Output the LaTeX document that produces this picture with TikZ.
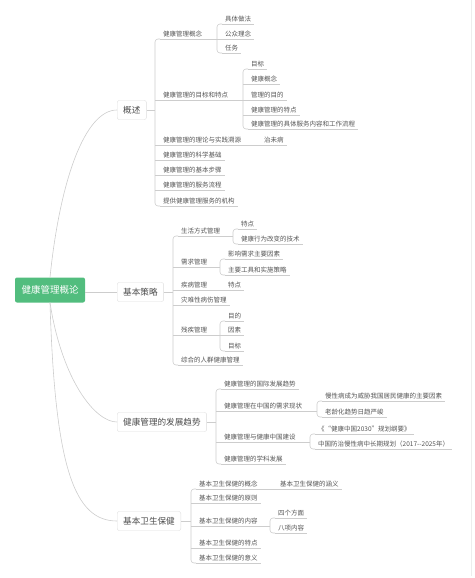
\documentclass[tikz,border=0pt]{standalone}
\usepackage{fontspec}
\setmainfont{Noto Sans CJK SC}
\definecolor{rootgreen}{HTML}{52BD7E}
\definecolor{linegray}{HTML}{CDCDCD}
\definecolor{boxgray}{HTML}{DDDDDD}
\definecolor{txtgray}{HTML}{555555}

\begin{document}
\begin{tikzpicture}[x=1pt, y=-1pt,
    branch/.style={draw=linegray, line width=0.6pt, rounded corners=3pt},
    leaf/.style={anchor=south west, inner xsep=3pt, inner ysep=1.5pt, text=txtgray, font=\fontsize{6.5}{7}\selectfont},
    topic/.style={anchor=west, draw=boxgray, fill=white, rounded corners=2pt, inner xsep=6pt, minimum height=19pt, text=txtgray!90!black, font=\fontsize{8.6}{10}\selectfont},
    rootnode/.style={fill=rootgreen, rounded corners=2pt, inner xsep=6.5pt, minimum height=25pt, text=white, font=\fontsize{9.5}{11}\selectfont}]
    \useasboundingbox (0,0) rectangle (474,578);
    \draw[black!7] (471,0) -- (471,576);

    % Root and main topics
    \node[rootnode] (root) at (50,290) {健康管理概论};
    \node[topic] (gaishu) at (117,110) {概述};
    \node[topic] (celue) at (117,292) {基本策略};
    \node[topic] (qushi) at (117,422) {健康管理的发展趋势};
    \node[topic] (baojian) at (117,521) {基本卫生保健};

    \draw[branch] (root.north) .. controls (60,180) and (85,110) .. (gaishu.west);
    \draw[branch] (root.east |- celue.west) -- (celue.west);
    \draw[branch] (root.south) .. controls (62,380) and (95,422) .. (qushi.west);
    \draw[branch] (root.south) .. controls (55,470) and (75,521) .. (baojian.west);

    % 概述
    \coordinate (gaishu-sp) at (155,110);
    \draw[branch] (gaishu.east) -- (gaishu-sp);
    \node[leaf] (g1) at (160,39) {健康管理概念};
    \node[leaf] (g2) at (160,100) {健康管理的目标和特点};
    \node[leaf] (g3) at (160,145) {健康管理的理论与实践溯源};
    \node[leaf] (g4) at (160,160) {健康管理的科学基础};
    \node[leaf] (g5) at (160,175) {健康管理的基本步骤};
    \node[leaf] (g6) at (160,190) {健康管理的服务流程};
    \node[leaf] (g7) at (160,206) {提供健康管理服务的机构};
    \draw[branch] (g1.south west) -| (gaishu-sp) |- (g7.south west);
    \foreach \i in {2,...,6}
        \draw[branch] (gaishu-sp |- g\i.south west) -- (g\i.south west);

    \coordinate (g1-sp) at (217,39);
    \draw[branch] (g1.south east) -- (g1-sp);
    \node[leaf] (g11) at (222,24) {具体做法};
    \node[leaf] (g12) at (222,39) {公众理念};
    \node[leaf] (g13) at (222,53) {任务};
    \draw[branch] (g11.south west) -| (g1-sp) |- (g13.south west);
    \draw[branch] (g1-sp) -- (g12.south west);

    \coordinate (g2-sp) at (243,100);
    \draw[branch] (g2.south east) -- (g2-sp);
    \node[leaf] (g21) at (248,69) {目标};
    \node[leaf] (g22) at (248,84) {健康概念};
    \node[leaf] (g23) at (248,100) {管理的目的};
    \node[leaf] (g24) at (248,115) {健康管理的特点};
    \node[leaf] (g25) at (248,129) {健康管理的具体服务内容和工作流程};
    \draw[branch] (g21.south west) -| (g2-sp) |- (g25.south west);
    \foreach \i in {22,23,24}
        \draw[branch] (g2-sp |- g\i.south west) -- (g\i.south west);

    \node[leaf] (g31) at (261,145) {治未病};
    \draw[branch] (g3.south east) -- (g31.south west);

    % 基本策略
    \coordinate (celue-sp) at (173,292);
    \draw[branch] (celue.east) -- (celue-sp);
    \node[leaf] (b1) at (178,236) {生活方式管理};
    \node[leaf] (b2) at (178,267) {需求管理};
    \node[leaf] (b3) at (178,290) {疾病管理};
    \node[leaf] (b4) at (178,305) {灾难性病伤管理};
    \node[leaf] (b5) at (178,335) {残疾管理};
    \node[leaf] (b6) at (178,365) {综合的人群健康管理};
    \draw[branch] (b1.south west) -| (celue-sp) |- (b6.south west);
    \foreach \i in {2,...,5}
        \draw[branch] (celue-sp |- b\i.south west) -- (b\i.south west);

    \coordinate (b1-sp) at (233,236);
    \draw[branch] (b1.south east) -- (b1-sp);
    \node[leaf] (b11) at (238,229) {特点};
    \node[leaf] (b12) at (238,244) {健康行为改变的技术};
    \draw[branch] (b11.south west) -| (b1-sp) |- (b12.south west);

    \coordinate (b2-sp) at (220,267);
    \draw[branch] (b2.south east) -- (b2-sp);
    \node[leaf] (b21) at (225,259) {影响需求主要因素};
    \node[leaf] (b22) at (225,275) {主要工具和实施策略};
    \draw[branch] (b21.south west) -| (b2-sp) |- (b22.south west);

    \node[leaf] (b31) at (225,290) {特点};
    \draw[branch] (b3.south east) -- (b31.south west);

    \coordinate (b5-sp) at (220,335);
    \draw[branch] (b5.south east) -- (b5-sp);
    \node[leaf] (b51) at (225,321) {目的};
    \node[leaf] (b52) at (225,335) {因素};
    \node[leaf] (b53) at (225,351) {目标};
    \draw[branch] (b51.south west) -| (b5-sp) |- (b53.south west);
    \draw[branch] (b5-sp) -- (b52.south west);

    % 健康管理的发展趋势
    \coordinate (qushi-sp) at (216,422);
    \draw[branch] (qushi.east) -- (qushi-sp);
    \node[leaf] (f1) at (221,389) {健康管理的国际发展趋势};
    \node[leaf] (f2) at (221,411) {健康管理在中国的需求现状};
    \node[leaf] (f3) at (221,442) {健康管理与健康中国建设};
    \node[leaf] (f4) at (221,464) {健康管理的学科发展};
    \draw[branch] (f1.south west) -| (qushi-sp) |- (f4.south west);
    \foreach \i in {2,3}
        \draw[branch] (qushi-sp |- f\i.south west) -- (f\i.south west);

    \coordinate (f2-sp) at (317,411);
    \draw[branch] (f2.south east) -- (f2-sp);
    \node[leaf] (f21) at (322,401) {慢性病成为威胁我国居民健康的主要因素};
    \node[leaf] (f22) at (322,417) {老龄化趋势日趋严峻};
    \draw[branch] (f21.south west) -| (f2-sp) |- (f22.south west);

    \coordinate (f3-sp) at (310,442);
    \draw[branch] (f3.south east) -- (f3-sp);
    \node[leaf] (f31) at (315,434) {《“健康中国2030”规划纲要》};
    \node[leaf] (f32) at (315,449) {中国防治慢性病中长期规划（2017-{}-2025年）};
    \draw[branch] (f31.south west) -| (f3-sp) |- (f32.south west);

    % 基本卫生保健
    \coordinate (baojian-sp) at (191,521);
    \draw[branch] (baojian.east) -- (baojian-sp);
    \node[leaf] (k1) at (196,489) {基本卫生保健的概念};
    \node[leaf] (k2) at (196,503) {基本卫生保健的原则};
    \node[leaf] (k3) at (196,526) {基本卫生保健的内容};
    \node[leaf] (k4) at (196,548) {基本卫生保健的特点};
    \node[leaf] (k5) at (196,563) {基本卫生保健的意义};
    \draw[branch] (k1.south west) -| (baojian-sp) |- (k5.south west);
    \foreach \i in {2,3,4}
        \draw[branch] (baojian-sp |- k\i.south west) -- (k\i.south west);

    \node[leaf] (k11) at (277,489) {基本卫生保健的涵义};
    \draw[branch] (k1.south east) -- (k11.south west);

    \coordinate (k3-sp) at (270,526);
    \draw[branch] (k3.south east) -- (k3-sp);
    \node[leaf] (k31) at (275,518) {四个方面};
    \node[leaf] (k32) at (275,533) {八项内容};
    \draw[branch] (k31.south west) -| (k3-sp) |- (k32.south west);

    % underlines
    \foreach \n in {g1,g2,g3,g4,g5,g6,g7,g11,g12,g13,g21,g22,g23,g24,g25,g31,
                    b1,b2,b3,b4,b5,b6,b11,b12,b21,b22,b31,b51,b52,b53,
                    f1,f2,f3,f4,f21,f22,f31,f32,
                    k1,k2,k3,k4,k5,k11,k31,k32}
        \draw[branch] (\n.south west) -- (\n.south east);
\end{tikzpicture}
\end{document}
